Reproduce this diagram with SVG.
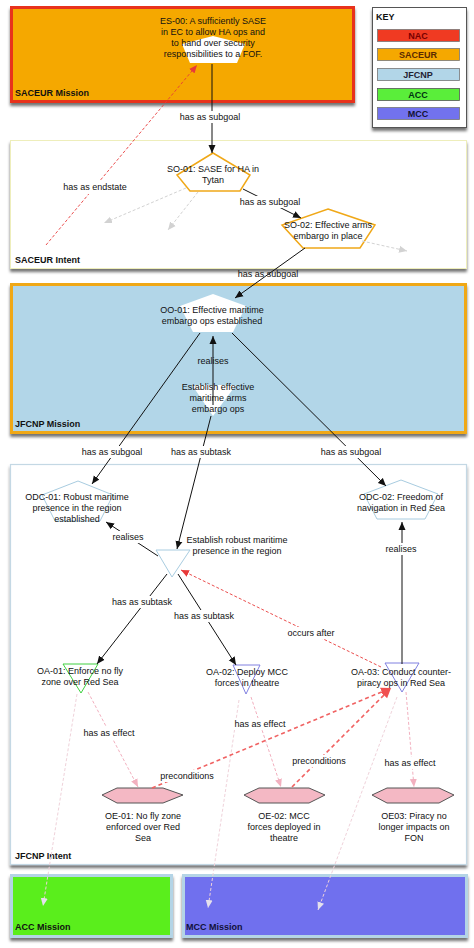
<svg xmlns="http://www.w3.org/2000/svg" width="474" height="948" viewBox="0 0 474 948">
<style>
text{font-family:"Liberation Sans",Arial,sans-serif;font-size:9px;fill:#111}
.nt{text-anchor:middle}
.lb{text-anchor:middle}
.cl{font-weight:bold}
.kt{font-weight:bold;text-anchor:middle}
.bg{fill:#fff}
.s{stroke:#111;stroke-width:1;fill:none}
.rd{stroke:#e83a3a;stroke-width:0.9;fill:none;stroke-dasharray:3 2}
.gd{stroke:#d2d2d2;stroke-width:1;fill:none;stroke-dasharray:3 2}
.pd{stroke:#f2b0bf;stroke-width:1;fill:none;stroke-dasharray:3 2}
.ld{stroke:#efd2da;stroke-width:1;fill:none;stroke-dasharray:3 2}
.pc{stroke:#f06262;stroke-width:1.6;fill:none;stroke-dasharray:4 3}
.pent{fill:#fff}
.hex{fill:#f4b8c4;stroke:#555;stroke-width:1}
</style>
<defs>
<filter id="sh" x="-5%" y="-5%" width="110%" height="120%">
<feDropShadow dx="0" dy="3" stdDeviation="1.5" flood-color="#000" flood-opacity="0.55"/>
</filter>
<marker id="ab" markerUnits="userSpaceOnUse" markerWidth="8" markerHeight="8" refX="8" refY="4" orient="auto"><path d="M0,0.5 L8,4 L0,7.5 z" fill="#111"/></marker>
<marker id="ar" markerUnits="userSpaceOnUse" markerWidth="8" markerHeight="8" refX="8" refY="4" orient="auto"><path d="M0,0.5 L8,4 L0,7.5 z" fill="#e83a3a"/></marker>
<marker id="ag" markerUnits="userSpaceOnUse" markerWidth="8" markerHeight="8" refX="8" refY="4" orient="auto"><path d="M0,0.5 L8,4 L0,7.5 z" fill="#d2d2d2"/></marker>
<marker id="ap" markerUnits="userSpaceOnUse" markerWidth="8" markerHeight="8" refX="8" refY="4" orient="auto"><path d="M0,0.5 L8,4 L0,7.5 z" fill="#f2b0bf"/></marker>
<marker id="al" markerUnits="userSpaceOnUse" markerWidth="8" markerHeight="8" refX="8" refY="4" orient="auto"><path d="M0,0.5 L8,4 L0,7.5 z" fill="#e4e0ec"/></marker>
<marker id="ac" markerUnits="userSpaceOnUse" markerWidth="11" markerHeight="11" refX="10" refY="5" orient="auto"><path d="M0,0.5 L10,5 L0,9.5 z" fill="#f05050"/></marker>
</defs>

<g id="containers">
<g id="saceur-mission">
<rect x="11.5" y="7.5" width="342" height="94" fill="#f5a800" stroke="#e8301c" stroke-width="3" filter="url(#sh)"/>
<text class="cl" x="15" y="96">SACEUR Mission</text>
</g>
<g id="key">
<rect x="372.5" y="7.5" width="94" height="120" fill="#fff" stroke="#555" stroke-width="1" filter="url(#sh)"/>
<text class="cl" x="376" y="20">KEY</text>
<rect x="377.5" y="29.5" width="82" height="12" fill="#f03a22" stroke="#777" stroke-width="0.8"/>
<text class="kt" x="418" y="39" style="fill:#700">NAC</text>
<rect x="377.5" y="48.5" width="82" height="12" fill="#f5a800" stroke="#777" stroke-width="0.8"/>
<text class="kt" x="418" y="58" style="fill:#5a2a00">SACEUR</text>
<rect x="377.5" y="68.5" width="82" height="12" fill="#b2d6e8" stroke="#777" stroke-width="0.8"/>
<text class="kt" x="418" y="78" style="fill:#223">JFCNP</text>
<rect x="377.5" y="88.5" width="82" height="12" fill="#5aee3a" stroke="#555" stroke-width="0.8"/>
<text class="kt" x="418" y="98" style="fill:#031">ACC</text>
<rect x="377.5" y="107.5" width="82" height="12" fill="#7272ee" stroke="#777" stroke-width="0.8"/>
<text class="kt" x="418" y="117" style="fill:#113">MCC</text>
</g>
<g id="saceur-intent">
<rect x="10.5" y="140.5" width="456" height="128" fill="#fff" stroke="#eeeebb" stroke-width="1" filter="url(#sh)"/>
<text class="cl" x="15" y="263">SACEUR Intent</text>
</g>
<g id="jfcnp-mission">
<rect x="11.5" y="284.5" width="454" height="148" fill="#b2d6e8" stroke="#f0a818" stroke-width="3" filter="url(#sh)"/>
<text class="cl" x="15" y="427">JFCNP Mission</text>
</g>
<g id="jfcnp-intent">
<rect x="10.5" y="464.5" width="456" height="400" fill="#fff" stroke="#c4d8e4" stroke-width="1.2" filter="url(#sh)"/>
<text class="cl" x="15" y="859">JFCNP Intent</text>
</g>
<g id="acc-mission">
<rect x="11.5" y="875.5" width="160" height="61" fill="#5aee1a" stroke="#b4d4e6" stroke-width="3" filter="url(#sh)"/>
<text class="cl" x="15" y="930">ACC Mission</text>
</g>
<g id="mcc-mission">
<rect x="183.5" y="875.5" width="283" height="61" fill="#7070ee" stroke="#b4d4e6" stroke-width="3" filter="url(#sh)"/>
<text class="cl" x="186" y="930" style="fill:#10103a">MCC Mission</text>
</g>
</g>

<g id="nodes">
<g id="ES-00">
<polygon class="pent" points="213,36 245,44 237,63 190,63 182,44"/>
<text class="nt" x="213" y="24">ES-00: A sufficiently SASE</text>
<text class="nt" x="213" y="35">in EC to allow HA ops and</text>
<text class="nt" x="213" y="46">to hand over security</text>
<text class="nt" x="213" y="57">responsibilities to a FOF.</text>
</g>
<g id="SO-01">
<polygon points="213,153 250,175 240,191 190,191 177,175" fill="#fff" stroke="#f0a818" stroke-width="1.5"/>
<text class="nt" x="213" y="172">SO-01: SASE for HA in</text>
<text class="nt" x="213" y="183">Tytan</text>
</g>
<g id="SO-02">
<polygon points="328,209 375,225 360,248 303,248 282,225" fill="#fff" stroke="#f0a818" stroke-width="1.5"/>
<text class="nt" x="328" y="228">SO-02: Effective arms</text>
<text class="nt" x="328" y="239">embargo in place</text>
</g>
<g id="OO-01">
<polygon class="pent" points="213,294 246,306 233,332 193,332 180,306"/>
<text class="nt" x="212" y="313">OO-01: Effective maritime</text>
<text class="nt" x="212" y="324">embargo ops established</text>
</g>
<g id="establish-effective">
<polygon class="pent" points="192,385 236,385 213,416"/>
<text class="nt" x="218" y="390">Establish effective</text>
<text class="nt" x="218" y="401">maritime arms</text>
<text class="nt" x="218" y="412">embargo ops</text>
</g>
<g id="ODC-01">
<polygon points="78,481 113,495 100,521 55,521 42,495" fill="#fff" stroke="#a8cce0" stroke-width="1"/>
<text class="nt" x="77" y="500">ODC-01: Robust maritime</text>
<text class="nt" x="77" y="511">presence in the region</text>
<text class="nt" x="77" y="522">established</text>
</g>
<g id="ODC-02">
<polygon points="401,480 438,494 425,519 377,519 364,494" fill="#fff" stroke="#a8cce0" stroke-width="1"/>
<text class="nt" x="401" y="500">ODC-02: Freedom of</text>
<text class="nt" x="401" y="511">navigation in Red Sea</text>
</g>
<g id="establish-robust">
<polygon points="156,550 190,550 172,577" fill="#fff" stroke="#a8cce0" stroke-width="1"/>
<text class="nt" x="237" y="543">Establish robust maritime</text>
<text class="nt" x="237" y="554">presence in the region</text>
</g>
<g id="OA-01">
<polygon points="63,664 98,664 81,693" fill="#fff" stroke="#40d040" stroke-width="1"/>
<text class="nt" x="80" y="674">OA-01: Enforce no fly</text>
<text class="nt" x="80" y="685">zone over Red Sea</text>
</g>
<g id="OA-02">
<polygon points="233,665 260,665 246,694" fill="#fff" stroke="#8080e0" stroke-width="1"/>
<text class="nt" x="247" y="675">OA-02: Deploy MCC</text>
<text class="nt" x="247" y="686">forces in theatre</text>
</g>
<g id="OA-03">
<polygon points="385,663 419,663 402,692" fill="#fff" stroke="#8080e0" stroke-width="1"/>
<text class="nt" x="401" y="675">OA-03: Conduct counter-</text>
<text class="nt" x="401" y="686">piracy ops in Red Sea</text>
</g>
<g id="OE-01">
<polygon class="hex" points="102,795 117,788 163,788 183,795 163,803 117,803"/>
<text class="nt" x="143" y="819">OE-01: No fly zone</text>
<text class="nt" x="143" y="830">enforced over Red</text>
<text class="nt" x="143" y="841">Sea</text>
</g>
<g id="OE-02">
<polygon class="hex" points="244,795 259,788 309,788 325,795 309,803 259,803"/>
<text class="nt" x="284" y="819">OE-02: MCC</text>
<text class="nt" x="284" y="830">forces deployed in</text>
<text class="nt" x="284" y="841">theatre</text>
</g>
<g id="OE03">
<polygon class="hex" points="372,795 387,788 439,788 454,795 439,803 387,803"/>
<text class="nt" x="414" y="819">OE03: Piracy no</text>
<text class="nt" x="414" y="830">longer impacts on</text>
<text class="nt" x="414" y="841">FON</text>
</g>
</g>

<g id="connectors">
<line class="s" x1="212" y1="64" x2="212" y2="153" marker-end="url(#ab)"/>
<line class="rd" x1="46" y1="245" x2="197" y2="65" marker-end="url(#ar)"/>
<line class="gd" x1="186" y1="188" x2="104" y2="223" marker-end="url(#ag)"/>
<line class="gd" x1="198" y1="192" x2="168" y2="230" marker-end="url(#ag)"/>
<line class="s" x1="243" y1="189" x2="301" y2="218" marker-end="url(#ab)"/>
<line class="gd" x1="362" y1="241" x2="407" y2="251" marker-end="url(#ag)"/>
<line class="s" x1="305" y1="248" x2="235" y2="298" marker-end="url(#ab)"/>
<line class="s" x1="200" y1="333" x2="92" y2="484" marker-end="url(#ab)"/>
<line class="s" x1="232" y1="333" x2="386" y2="486" marker-end="url(#ab)"/>
<line class="s" x1="213" y1="405" x2="213" y2="336" marker-end="url(#ab)"/>
<line class="s" x1="211" y1="416" x2="177" y2="549" marker-end="url(#ab)"/>
<line class="s" x1="158" y1="556" x2="106" y2="522" marker-end="url(#ab)"/>
<line class="s" x1="167" y1="574" x2="97" y2="664" marker-end="url(#ab)"/>
<line class="s" x1="178" y1="574" x2="236" y2="665" marker-end="url(#ab)"/>
<line class="rd" x1="381" y1="667" x2="181" y2="570" marker-end="url(#ar)"/>
<line class="s" x1="402" y1="664" x2="402" y2="522" marker-end="url(#ab)"/>
<line class="pd" x1="88" y1="692" x2="138" y2="787" marker-end="url(#ap)"/>
<line class="ld" x1="77" y1="694" x2="43" y2="906" marker-end="url(#al)"/>
<line class="pd" x1="251" y1="697" x2="281" y2="787" marker-end="url(#ap)"/>
<line class="ld" x1="239" y1="700" x2="208" y2="908" marker-end="url(#al)"/>
<line class="pd" x1="406" y1="692" x2="414" y2="787" marker-end="url(#ap)"/>
<line class="ld" x1="397" y1="697" x2="318" y2="910" marker-end="url(#al)"/>
<line class="pc" x1="152" y1="788" x2="391" y2="688" marker-end="url(#ac)"/>
<line class="pc" x1="292" y1="787" x2="391" y2="688" marker-end="url(#ac)"/>

<rect class="bg" x="178" y="111" width="64" height="12"/>
<text class="lb" x="210" y="120">has as subgoal</text>
<rect class="bg" x="61" y="181" width="68" height="13"/>
<text class="lb" x="95" y="190">has as endstate</text>
<rect class="bg" x="238" y="196" width="64" height="12"/>
<text class="lb" x="270" y="205">has as subgoal</text>
<text class="lb" x="268" y="277">has as subgoal</text>
<text class="lb" x="213" y="364">realises</text>
<rect class="bg" x="80" y="446" width="64" height="12"/>
<text class="lb" x="112" y="455">has as subgoal</text>
<rect class="bg" x="169" y="446" width="64" height="12"/>
<text class="lb" x="201" y="455">has as subtask</text>
<rect class="bg" x="319" y="446" width="64" height="12"/>
<text class="lb" x="351" y="455">has as subgoal</text>
<rect class="bg" x="110" y="531" width="36" height="12"/>
<text class="lb" x="128" y="540">realises</text>
<rect class="bg" x="383" y="543" width="36" height="12"/>
<text class="lb" x="401" y="552">realises</text>
<rect class="bg" x="110" y="596" width="64" height="12"/>
<text class="lb" x="142" y="605">has as subtask</text>
<rect class="bg" x="172" y="610" width="64" height="12"/>
<text class="lb" x="204" y="619">has as subtask</text>
<rect class="bg" x="285" y="627" width="52" height="12"/>
<text class="lb" x="311" y="636">occurs after</text>
<rect class="bg" x="81" y="727" width="56" height="12"/>
<text class="lb" x="109" y="736">has as effect</text>
<rect class="bg" x="232" y="718" width="56" height="12"/>
<text class="lb" x="260" y="727">has as effect</text>
<rect class="bg" x="382" y="757" width="56" height="12"/>
<text class="lb" x="410" y="766">has as effect</text>
<rect class="bg" x="158" y="770" width="58" height="12"/>
<text class="lb" x="187" y="779">preconditions</text>
<rect class="bg" x="290" y="755" width="58" height="12"/>
<text class="lb" x="319" y="764">preconditions</text>
</g>
</svg>
